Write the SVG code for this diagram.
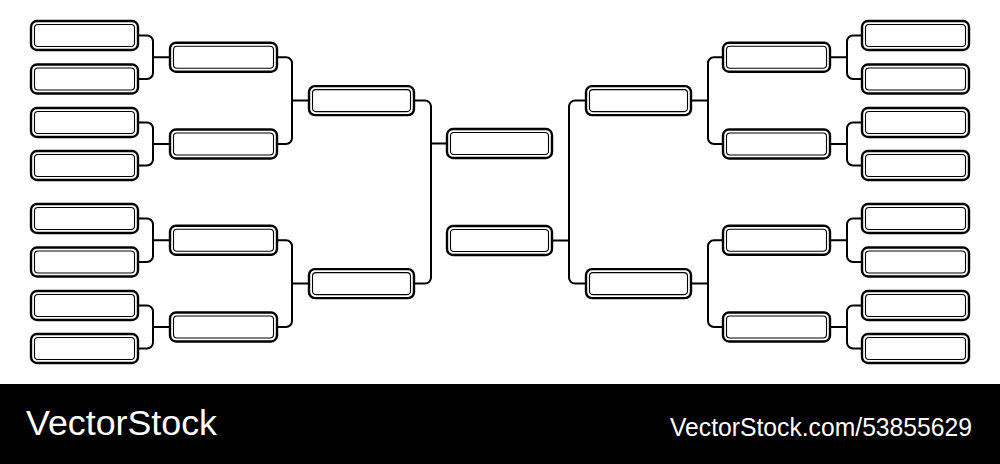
<svg xmlns="http://www.w3.org/2000/svg" width="1000" height="464" viewBox="0 0 1000 464">
<style>
.o{fill:#fff;stroke:#000;stroke-width:2.4}
.i{fill:none;stroke:#000;stroke-width:1.1}
.c{fill:none;stroke:#000;stroke-width:2}
.t{fill:#fff;font-family:"Liberation Sans",Arial,sans-serif}
</style>
<defs>
<g id="b107"><rect class="o" x="0" y="0" width="107" height="29" rx="6"/><rect class="i" x="3.5" y="3.5" width="100" height="22" rx="3.5"/></g>
<g id="b105"><rect class="o" x="0" y="0" width="105" height="29" rx="6"/><rect class="i" x="3.5" y="3.5" width="98" height="22" rx="3.5"/></g>
</defs>
<rect x="0" y="0" width="1000" height="384" fill="#fff"/>
<g id="connectors">
<path class="c" d="M138 35.5H147A6 6 0 0 1 153 41.5V73A6 6 0 0 1 147 79H138M153 57.25H169"/>
<path class="c" d="M138 122.5H147A6 6 0 0 1 153 128.5V159.5A6 6 0 0 1 147 165.5H138M153 144H169"/>
<path class="c" d="M138 218.5H147A6 6 0 0 1 153 224.5V256A6 6 0 0 1 147 262H138M153 240.25H169"/>
<path class="c" d="M138 305.5H147A6 6 0 0 1 153 311.5V342.5A6 6 0 0 1 147 348.5H138M153 327H169"/>
<path class="c" d="M277 57.25H286A6 6 0 0 1 292 63.25V138A6 6 0 0 1 286 144H277M292 100.6H309"/>
<path class="c" d="M277 240.25H286A6 6 0 0 1 292 246.25V321A6 6 0 0 1 286 327H277M292 283.6H309"/>
<path class="c" d="M414 100.6H425A6 6 0 0 1 431 106.6V277.6A6 6 0 0 1 425 283.6H414M431 143.5H447"/>
<path class="c" d="M586 100.6H575A6 6 0 0 0 569 106.6V277.6A6 6 0 0 0 575 283.6H586M569 240.5H552"/>
<path class="c" d="M724 57.25H714A6 6 0 0 0 708 63.25V138A6 6 0 0 0 714 144H724M708 100.6H691"/>
<path class="c" d="M724 240.25H714A6 6 0 0 0 708 246.25V321A6 6 0 0 0 714 327H724M708 283.6H691"/>
<path class="c" d="M862 35.5H853A6 6 0 0 0 847 41.5V73A6 6 0 0 0 853 79H862M847 57.25H830"/>
<path class="c" d="M862 122.5H853A6 6 0 0 0 847 128.5V159.5A6 6 0 0 0 853 165.5H862M847 144H830"/>
<path class="c" d="M862 218.5H853A6 6 0 0 0 847 224.5V256A6 6 0 0 0 853 262H862M847 240.25H830"/>
<path class="c" d="M862 305.5H853A6 6 0 0 0 847 311.5V342.5A6 6 0 0 0 853 348.5H862M847 327H830"/>
</g>
<g id="L1a"><use href="#b107" x="31" y="21"/></g>
<g id="L1b"><use href="#b107" x="31" y="64.5"/></g>
<g id="L1c"><use href="#b107" x="31" y="108"/></g>
<g id="L1d"><use href="#b107" x="31" y="151"/></g>
<g id="L1e"><use href="#b107" x="31" y="204"/></g>
<g id="L1f"><use href="#b107" x="31" y="247.5"/></g>
<g id="L1g"><use href="#b107" x="31" y="291"/></g>
<g id="L1h"><use href="#b107" x="31" y="334"/></g>
<g id="L2a"><use href="#b107" x="170" y="42.75"/></g>
<g id="L2b"><use href="#b107" x="170" y="129.5"/></g>
<g id="L2c"><use href="#b107" x="170" y="225.75"/></g>
<g id="L2d"><use href="#b107" x="170" y="312.5"/></g>
<g id="L3a"><use href="#b105" x="309" y="86.1"/></g>
<g id="L3b"><use href="#b105" x="309" y="269.1"/></g>
<g id="F1"><use href="#b105" x="447" y="129"/></g>
<g id="F2"><use href="#b105" x="447" y="226"/></g>
<g id="R3a"><use href="#b105" x="586" y="86.1"/></g>
<g id="R3b"><use href="#b105" x="586" y="269.1"/></g>
<g id="R2a"><use href="#b107" x="723" y="42.75"/></g>
<g id="R2b"><use href="#b107" x="723" y="129.5"/></g>
<g id="R2c"><use href="#b107" x="723" y="225.75"/></g>
<g id="R2d"><use href="#b107" x="723" y="312.5"/></g>
<g id="R1a"><use href="#b107" x="862" y="21"/></g>
<g id="R1b"><use href="#b107" x="862" y="64.5"/></g>
<g id="R1c"><use href="#b107" x="862" y="108"/></g>
<g id="R1d"><use href="#b107" x="862" y="151"/></g>
<g id="R1e"><use href="#b107" x="862" y="204"/></g>
<g id="R1f"><use href="#b107" x="862" y="247.5"/></g>
<g id="R1g"><use href="#b107" x="862" y="291"/></g>
<g id="R1h"><use href="#b107" x="862" y="334"/></g>
<g id="banner">
<rect x="0" y="384" width="1000" height="80" fill="#000"/>
<text class="t" x="26" y="435" font-size="35" textLength="191" lengthAdjust="spacingAndGlyphs">VectorStock</text>
<text class="t" x="670" y="436" font-size="25" textLength="302" lengthAdjust="spacingAndGlyphs">VectorStock.com/53855629</text>
</g>
</svg>
